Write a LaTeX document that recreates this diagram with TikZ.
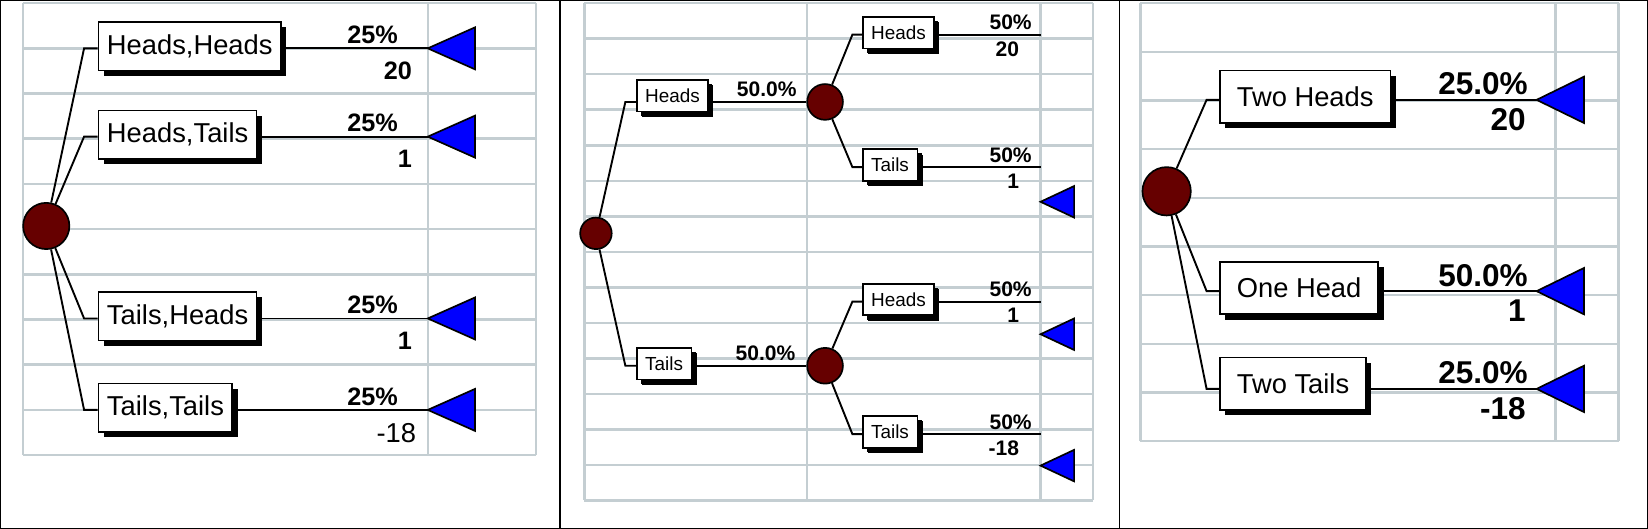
\documentclass[tikz,border=0pt]{standalone}
\usepackage{fontspec}
\setmainfont{Liberation Sans}
\usetikzlibrary{shadows,positioning}

\begin{document}
\begin{tikzpicture}[x=0.5pt,y=-0.5pt,
    grid/.style={draw=black!20!cyan!20!gray!45, line width=1.2pt},
    chance/.style={circle, draw, thick, fill=red!40!black, inner sep=0pt},
    branch/.style={draw, thick, fill=white, anchor=west, align=left,
      drop shadow={shadow xshift=2.5pt, shadow yshift=-2.5pt, fill=black, opacity=1}},
    leaf/.style={draw, thick, fill=blue},
    link/.style={line width=0.9pt},
    prob/.style={font=\bfseries, anchor=south east, inner sep=2pt}]
  \useasboundingbox (0,0) rectangle (1568,503);
  % grids
  \foreach \y in {3,46,...,440} \draw[grid] (22,\y) -- (510,\y);
  \foreach \x in {22,407,510} \draw[grid] (\x,3) -- (\x,433);
  \foreach \k in {0,...,14} \draw[grid] (556,3+33.8*\k) -- (1040,3+33.8*\k);
  \foreach \x in {556,768,990,1040} \draw[grid] (\x,3) -- (\x,476);
  \foreach \k in {0,...,9} \draw[grid] (1085,3+46.3*\k) -- (1540,3+46.3*\k);
  \foreach \x in {1085,1480,1540} \draw[grid] (\x,3) -- (\x,420);
  % frames
  \draw[thick] (0,0) rectangle (1568,503);
  \draw[thick] (533,0) -- (533,503) (1065,0) -- (1065,503);

  % left tree
  {\fontsize{13}{15}\selectfont
  \node(c0) at (44,215) [chance, minimum size=22pt] {};
  \node(hh) at (93,44) [branch, minimum height=23pt, inner xsep=4pt] {Heads,Heads};
  \node(ht) at (93,128) [branch, minimum height=23pt, inner xsep=4pt] {Heads,Tails};
  \node(th) at (93,301) [branch, minimum height=23pt, inner xsep=4pt] {Tails,Heads};
  \node(tt) at (93,388) [branch, minimum height=23pt, inner xsep=4pt] {Tails,Tails};
  \foreach \b/\y in {hh/46,ht/130,th/303,tt/390} {
    \coordinate (e\b) at (407,\y);
    \draw[link] (c0) -- (80,\y) -- (\b.west |- e\b);
    \draw[link] (\b.east |- e\b) -- (e\b);
    \draw[leaf] (e\b) -- ++(45,-20) -- ++(0,40) -- cycle;
    \node[prob, font=\fontsize{12}{14}\selectfont\bfseries] at ([xshift=-12pt]e\b) {25\%};
  }
  \node[font=\fontsize{12}{14}\selectfont\bfseries, anchor=north east] at ([xshift=-3pt,yshift=-2pt]ehh) {20};
  \node[font=\fontsize{12}{14}\selectfont\bfseries, anchor=north east] at ([xshift=-3pt,yshift=-2pt]eht) {1};
  \node[font=\fontsize{12}{14}\selectfont\bfseries, anchor=north east] at ([xshift=-3pt,yshift=-2pt]eth) {1};
  \node[anchor=north east] at ([xshift=-1pt,yshift=-2pt]ett) {-18};
  }

  % middle tree
  {\fontsize{9}{11}\selectfont
  \tikzset{branch/.append style={minimum height=15pt, inner xsep=4pt,
      drop shadow={shadow xshift=2pt, shadow yshift=-2pt, fill=black, opacity=1}}}
  \node(m0) at (567,222) [chance, minimum size=15pt] {};
  \node(mh) at (605,91) [branch] {Heads};
  \node(mt) at (605,346) [branch] {Tails};
  \node(mc1) at (785,97) [chance, minimum size=17pt] {};
  \node(mc2) at (785,348) [chance, minimum size=17pt] {};
  \draw[link] (m0) -- (595,97) -- (mh.west |- mc1);
  \draw[link] (m0) -- (595,348) -- (mt.west |- mc2);
  \draw[link] (mh.east |- mc1) -- (mc1) node[prob, pos=0.93, xshift=1pt, font=\fontsize{10}{12}\selectfont\bfseries] {50.0\%};
  \draw[link] (mt.east |- mc2) -- (mc2) node[prob, pos=0.93, xshift=1pt, font=\fontsize{10}{12}\selectfont\bfseries] {50.0\%};
  \node(a1) at (820,31) [branch] {Heads};
  \node(a2) at (820,157) [branch] {Tails};
  \node(a3) at (820,285) [branch] {Heads};
  \node(a4) at (820,411) [branch] {Tails};
  \foreach \b/\y/\v/\c in {a1/33/20/mc1,a2/159/1/mc1,a3/287/1/mc2,a4/413/-18/mc2} {
    \coordinate (e\b) at (990,\y);
    \draw[link] (\c) -- (811,\y) -- (\b.west |- e\b);
    \draw[link] (\b.east |- e\b) -- (e\b);
    \node[prob, font=\fontsize{10}{12}\selectfont\bfseries] at ([xshift=-2pt]e\b) {50\%};
    \node[font=\fontsize{10}{12}\selectfont\bfseries, anchor=north east, inner sep=1pt] at ([xshift=-9pt,yshift=-2pt]e\b) {\v};
  }
  \foreach \y in {192,318,443}
    \draw[leaf] (990,\y) -- ++(32,-15) -- ++(0,30) -- cycle;
  }

  % right tree
  {\fontsize{13}{15}\selectfont
  \tikzset{branch/.append style={minimum height=25pt, inner xsep=8pt}}
  \node(r0) at (1110,182) [chance, minimum size=23pt] {};
  \node(r1) at (1160,92) [branch] {Two Heads};
  \node(r2) at (1160,274) [branch] {One Head};
  \node(r3) at (1160,365) [branch] {Two Tails};
  \foreach \b/\y/\p/\v in {r1/95/25.0/20,r2/277/50.0/1,r3/370/25.0/-18} {
    \coordinate (e\b) at (1462,\y);
    \draw[link] (r0) -- (1148,\y) -- (\b.west |- e\b);
    \draw[link] (\b.east |- e\b) -- (e\b);
    \draw[leaf] (e\b) -- ++(45,-22) -- ++(0,44) -- cycle;
    \node[prob, font=\fontsize{15}{17}\selectfont\bfseries] at ([xshift=-2pt]e\b) {\p\%};
    \node[font=\fontsize{15}{17}\selectfont\bfseries, anchor=north east, inner sep=2pt] at ([xshift=-3pt,yshift=-2pt]e\b) {\v};
  }
  }
\end{tikzpicture}
\end{document}
